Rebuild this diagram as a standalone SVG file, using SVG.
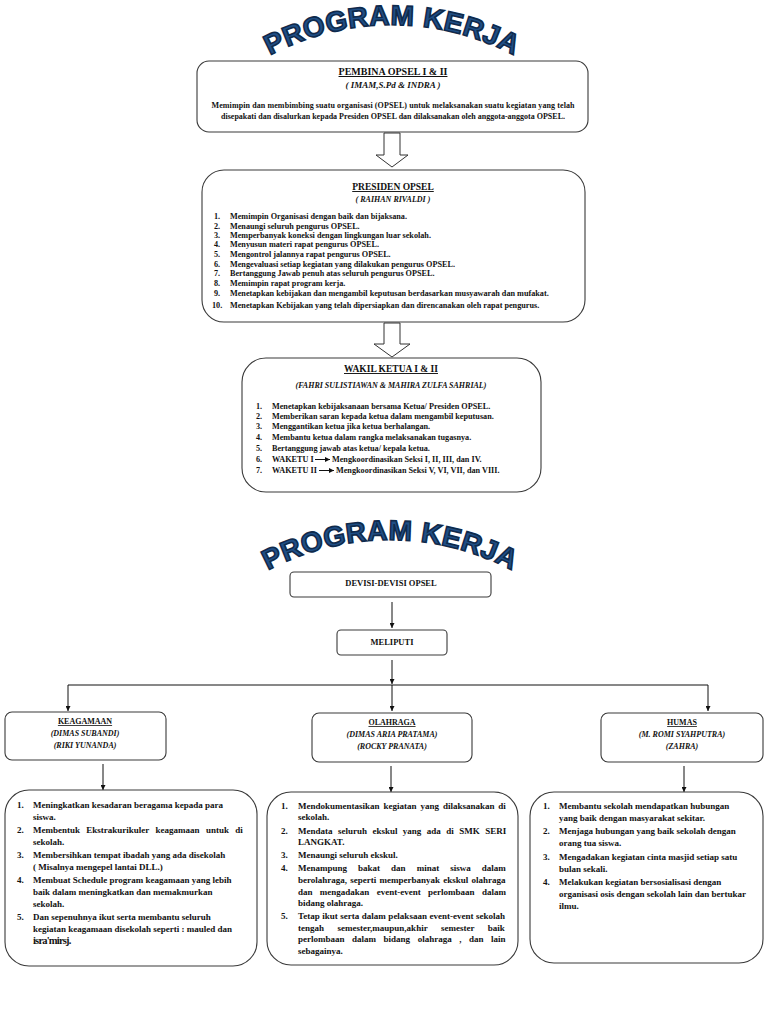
<svg xmlns="http://www.w3.org/2000/svg" width="768" height="1024" viewBox="0 0 768 1024">
<style>
.bx{fill:#fff;stroke:#3a3a3a;stroke-width:1.1}
.ba{fill:#fff;stroke:#333;stroke-width:1}
.t{font-family:"Liberation Serif","Times New Roman",serif;font-weight:bold;fill:#111}
.ti{font-family:"Liberation Serif","Times New Roman",serif;font-weight:bold;font-style:italic;fill:#111}
.u{text-decoration:underline}
.c{text-anchor:middle}
.ttl{font-family:"Liberation Sans",Arial,sans-serif;font-weight:bold;font-size:28px;fill:#1f4e85;stroke:#0f2a4c;stroke-width:1.6;letter-spacing:0.4px}
.ln{fill:none;stroke:#111;stroke-width:1}
.s8{font-size:8px}
.s82{font-size:8.2px}
.s9{font-size:9px}
</style>
<defs>
<path id="arc1" d="M 224.9,85.8 A 260,260 0 0,1 559.1,85.8"/>
<path id="arc2" d="M 222.9,600.8 A 260,260 0 0,1 557.1,600.8"/>
<marker id="ah" viewBox="0 0 10 10" refX="10" refY="5" markerWidth="5" markerHeight="5" orient="auto" markerUnits="userSpaceOnUse">
<path d="M0,0 L10,5 L0,10 Z" fill="#111"/>
</marker>
<marker id="ah2" viewBox="0 0 10 10" refX="10" refY="5" markerWidth="6" markerHeight="5" orient="auto" markerUnits="userSpaceOnUse">
<path d="M0,0 L10,5 L0,10 Z" fill="#111"/>
</marker>
</defs>
<rect width="768" height="1024" fill="#fff"/>

<g id="title1">
<text class="ttl"><textPath href="#arc1" startOffset="50%" text-anchor="middle">PROGRAM KERJA</textPath></text>
</g>

<g id="connectors">
<path class="ba" d="M384,133 L400,133 L400,155 L408,155 L392,167 L376,155 L384,155 Z"/>
<path class="ba" d="M384,323 L400,323 L400,344 L410,344 L392,357 L374,344 L384,344 Z"/>
<line class="ln" x1="392" y1="602" x2="392" y2="628" marker-end="url(#ah)"/>
<line class="ln" x1="392" y1="660" x2="392" y2="684" marker-end="url(#ah)"/>
<line class="ln" x1="68" y1="685" x2="708" y2="685"/>
<line class="ln" x1="68" y1="685" x2="68" y2="711" marker-end="url(#ah)"/>
<line class="ln" x1="392" y1="685" x2="392" y2="711" marker-end="url(#ah)"/>
<line class="ln" x1="708" y1="685" x2="708" y2="711" marker-end="url(#ah)"/>
<line class="ln" x1="103" y1="764" x2="103" y2="790" marker-end="url(#ah)"/>
<line class="ln" x1="391" y1="766" x2="391" y2="792" marker-end="url(#ah)"/>
<line class="ln" x1="684" y1="766" x2="684" y2="792" marker-end="url(#ah)"/>
</g>

<g id="pembina">
<rect class="bx" x="197" y="61" width="391" height="71" rx="12"/>
<text class="t u c" x="393" y="75" font-size="10">PEMBINA OPSEL I &amp; II</text>
<text class="ti c" x="393" y="88" font-size="9">( IMAM,S.Pd &amp; INDRA )</text>
<text class="t c s8" x="393" y="108" textLength="363" lengthAdjust="spacing">Memimpin dan membimbing suatu organisasi (OPSEL) untuk melaksanakan suatu kegiatan yang telah</text>
<text class="t c s8" x="393" y="119" textLength="344" lengthAdjust="spacing">disepakati dan disalurkan kepada Presiden OPSEL dan dilaksanakan oleh anggota-anggota OPSEL.</text>
</g>

<g id="presiden">
<rect class="bx" x="202" y="170" width="383" height="152" rx="22"/>
<text class="t u c" x="393" y="190" font-size="9.5">PRESIDEN OPSEL</text>
<text class="ti c s8" x="393" y="202">( RAIHAN RIVALDI )</text>
<g class="t s82">
<text x="214" y="219">1.</text><text x="230" y="219">Memimpin Organisasi dengan baik dan bijaksana.</text>
<text x="214" y="229">2.</text><text x="230" y="229">Menaungi seluruh pengurus  OPSEL.</text>
<text x="214" y="238">3.</text><text x="230" y="238">Memperbanyak koneksi dengan lingkungan luar sekolah.</text>
<text x="214" y="247">4.</text><text x="230" y="247">Menyusun materi rapat pengurus OPSEL.</text>
<text x="214" y="257">5.</text><text x="230" y="257">Mengontrol jalannya rapat pengurus OPSEL.</text>
<text x="214" y="267">6.</text><text x="230" y="267">Mengevaluasi setiap kegiatan yang dilakukan pengurus OPSEL.</text>
<text x="214" y="276">7.</text><text x="230" y="276">Bertanggung Jawab penuh atas seluruh pengurus OPSEL.</text>
<text x="214" y="286">8.</text><text x="230" y="286">Memimpin rapat program kerja.</text>
<text x="214" y="296">9.</text><text x="230" y="296">Menetapkan kebijakan dan mengambil keputusan berdasarkan musyawarah dan mufakat.</text>
<text x="212" y="308">10.</text><text x="230" y="308">Menetapkan Kebijakan yang telah dipersiapkan dan direncanakan oleh rapat pengurus.</text>
</g>
</g>

<g id="wakil">
<rect class="bx" x="242" y="358" width="299" height="134" rx="24"/>
<text class="t u c" x="391" y="372" font-size="9.5">WAKIL KETUA I &amp; II</text>
<text class="ti c s8" x="391" y="388">(FAHRI SULISTIAWAN &amp; MAHIRA ZULFA SAHRIAL)</text>
<g class="t s82">
<text x="256" y="409">1.</text><text x="272" y="409">Menetapkan kebijaksanaan bersama Ketua/ Presiden OPSEL.</text>
<text x="256" y="419">2.</text><text x="272" y="419">Memberikan saran kepada ketua dalam mengambil keputusan.</text>
<text x="256" y="429">3.</text><text x="272" y="429">Menggantikan ketua jika ketua berhalangan.</text>
<text x="256" y="440">4.</text><text x="272" y="440">Membantu ketua dalam rangka melaksanakan tugasnya.</text>
<text x="256" y="451">5.</text><text x="272" y="451">Bertanggung jawab atas ketua/ kepala ketua.</text>
<text x="256" y="462">6.</text><text x="272" y="462">WAKETU I</text><text x="332" y="462">Mengkoordinasikan Seksi  I, II, III, dan IV.</text>
<text x="256" y="473">7.</text><text x="272" y="473">WAKETU II</text><text x="336" y="473">Mengkoordinasikan Seksi V, VI, VII, dan VIII.</text>
</g>
<line class="ln" x1="315" y1="459.5" x2="330" y2="459.5" marker-end="url(#ah2)"/>
<line class="ln" x1="319" y1="470.5" x2="334" y2="470.5" marker-end="url(#ah2)"/>
</g>

<g id="title2">
<text class="ttl"><textPath href="#arc2" startOffset="50%" text-anchor="middle">PROGRAM KERJA</textPath></text>
</g>

<g id="devisi">
<rect class="bx" x="290" y="572" width="201" height="25" rx="4"/>
<text class="t c" x="391" y="586" font-size="8.5">DEVISI-DEVISI OPSEL</text>
</g>

<g id="meliputi">
<rect class="bx" x="337" y="630" width="110" height="25" rx="4"/>
<text class="t c" x="392" y="645" font-size="8.5">MELIPUTI</text>
</g>

<g id="keagamaan">
<rect class="bx" x="5" y="712" width="161" height="48" rx="7"/>
<text class="t u c s8" x="85" y="724">KEAGAMAAN</text>
<text class="ti c s8" x="85" y="736">(DIMAS SUBANDI)</text>
<text class="ti c s8" x="85" y="748">(RIKI YUNANDA)</text>
</g>

<g id="olahraga">
<rect class="bx" x="312" y="713" width="160" height="49" rx="7"/>
<text class="t u c s8" x="392" y="725">OLAHRAGA</text>
<text class="ti c s8" x="392" y="737">(DIMAS ARIA PRATAMA)</text>
<text class="ti c s8" x="392" y="749">(ROCKY PRANATA)</text>
</g>

<g id="humas">
<rect class="bx" x="601" y="713" width="162" height="49" rx="7"/>
<text class="t u c s8" x="682" y="725">HUMAS</text>
<text class="ti c s8" x="682" y="737">(M. ROMI SYAHPUTRA)</text>
<text class="ti c s8" x="682" y="749">(ZAHRA)</text>
</g>

<g id="keagamaan-list">
<rect class="bx" x="5" y="790" width="252" height="176" rx="24"/>
<g class="t s9">
<text x="17" y="808">1.</text><text x="33" y="808">Meningkatkan kesadaran beragama kepada para</text>
<text x="33" y="820">siswa.</text>
<text x="17" y="833">2.</text><text x="33" y="833" word-spacing="4.1">Membentuk Ekstrakurikuler keagamaan untuk di</text>
<text x="33" y="845">sekolah.</text>
<text x="17" y="858">3.</text><text x="33" y="858">Membersihkan tempat ibadah yang ada disekolah</text>
<text x="33" y="870">( Misalnya mengepel lantai DLL.)</text>
<text x="17" y="883">4.</text><text x="33" y="883">Membuat Schedule program keagamaan yang lebih</text>
<text x="33" y="895">baik dalam meningkatkan dan memakmurkan</text>
<text x="33" y="907">sekolah.</text>
<text x="17" y="920">5.</text><text x="33" y="920">Dan sepenuhnya ikut serta membantu seluruh</text>
<text x="33" y="932">kegiatan keagamaan disekolah seperti : mauled dan</text>
<text x="33" y="944" font-size="10.5" letter-spacing="-0.8">isra'mirsj.</text>
</g>
</g>

<g id="olahraga-list">
<rect class="bx" x="267" y="792" width="251" height="173" rx="24"/>
<g class="t s9">
<text x="281" y="809">1.</text><text x="298" y="809" word-spacing="1.7">Mendokumentasikan kegiatan yang dilaksanakan di</text>
<text x="298" y="820">sekolah.</text>
<text x="281" y="834">2.</text><text x="298" y="834" word-spacing="3.2">Mendata seluruh ekskul yang ada di SMK SERI</text>
<text x="298" y="845">LANGKAT.</text>
<text x="281" y="858">3.</text><text x="298" y="858">Menaungi seluruh ekskul.</text>
<text x="281" y="871">4.</text><text x="298" y="871" word-spacing="8.8">Menampung bakat dan minat siswa dalam</text>
<text x="298" y="883" word-spacing="1.0">berolahraga, seperti memperbanyak ekskul olahraga</text>
<text x="298" y="895" word-spacing="5.1">dan mengadakan event-event perlombaan dalam</text>
<text x="298" y="906">bidang olahraga.</text>
<text x="281" y="919">5.</text><text x="298" y="919" word-spacing="0.3">Tetap ikut serta dalam pelaksaan event-event sekolah</text>
<text x="298" y="931" word-spacing="11.2">tengah semester,maupun,akhir semester baik</text>
<text x="298" y="942" word-spacing="5.3">perlombaan dalam bidang olahraga , dan lain</text>
<text x="298" y="954">sebagainya.</text>
</g>
</g>

<g id="humas-list">
<rect class="bx" x="530" y="792" width="233" height="171" rx="24"/>
<g class="t s9">
<text x="543" y="809">1.</text><text x="559" y="809">Membantu sekolah mendapatkan hubungan</text>
<text x="559" y="821">yang baik dengan masyarakat sekitar.</text>
<text x="543" y="834">2.</text><text x="559" y="834">Menjaga hubungan yang baik sekolah dengan</text>
<text x="559" y="846">orang tua siswa.</text>
<text x="543" y="860">3.</text><text x="559" y="860">Mengadakan kegiatan cinta masjid setiap satu</text>
<text x="559" y="872">bulan sekali.</text>
<text x="543" y="885">4.</text><text x="559" y="885">Melakukan kegiatan bersosialisasi dengan</text>
<text x="559" y="897">organisasi osis dengan sekolah lain dan bertukar</text>
<text x="559" y="909">ilmu.</text>
</g>
</g>
</svg>
